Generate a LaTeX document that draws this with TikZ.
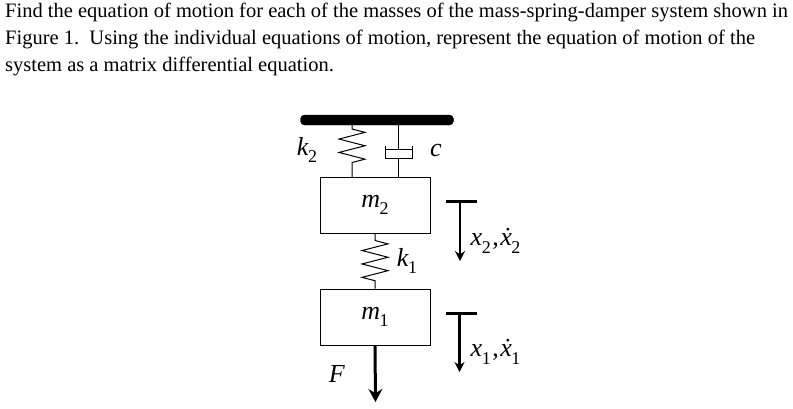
\documentclass[tikz,border=0pt]{standalone}
\usepackage{fontspec}
\setmainfont{Liberation Serif}
\usetikzlibrary{arrows.meta,decorations.pathmorphing}
\newcommand{\qtysym}[2]{\textit{#1}\kern-0.5pt\raisebox{-0.28em}{\fontsize{18}{18}\selectfont #2}}
\newcommand{\qtydot}[2]{\textit{\.{#1}}\kern-0.5pt\raisebox{-0.28em}{\fontsize{18}{18}\selectfont #2}}
\tikzset{
    body/.style={inner sep=0pt, anchor=base west, font=\fontsize{20.5}{27}\selectfont},
    lab/.style={inner sep=0pt, font=\fontsize{26}{26}\selectfont},
    mass/.style={draw, line width=1pt, minimum width=110pt, minimum height=56pt, inner sep=0pt, font=\fontsize{26}{26}\selectfont},
    wire/.style={line width=1pt},
    spring/.style={line width=1pt, decorate, decoration={zigzag, amplitude=13pt, segment length=13.4pt, pre length=7pt, post length=8pt}},
    travel/.style={line width=2.2pt, -{Stealth[length=10pt,width=10pt]}},
    tbar/.style={line width=3pt},
}
\begin{document}
\begin{tikzpicture}[x=1pt,y=-1pt]
    \useasboundingbox (0,0) rectangle (793,408);

    \node[body] (line1) at (5,17) {Find the equation of motion for each of the masses of the mass-spring-damper system shown in};
    \node[body] (line2) at (5,44) {Figure 1.\ \ Using the individual equations of motion, represent the equation of motion of the};
    \node[body] (line3) at (5,71) {system as a matrix differential equation.};

    % ceiling and masses
    \node[draw=black, fill=black, rounded corners=4pt, minimum width=153pt, minimum height=10pt, inner sep=0pt] (ceil) at (377,120) {};
    \node[mass] (m2) at (375,205) {\qtysym{m}{2}};
    \node[mass] (m1) at (375,317) {\qtysym{m}{1}};

    % springs
    \coordinate (k2top) at (352,122);
    \coordinate (k2bot) at (352,177);
    \draw[spring] (k2top) -- (k2bot);
    \draw[spring, decoration={pre length=7pt, post length=7pt}] (m2.south) -- (m1.north);

    % damper
    \coordinate (ctop) at (398,122);
    \coordinate (cpist) at (398,149);
    \coordinate (cbot) at (398,158);
    \coordinate (cmass) at (398,177);
    \draw[wire] (ctop) -- (cpist);
    \draw[wire] (cbot) -- (cmass);
    \draw[wire] (385,146) -- (385,158) -- (412,158) -- (412,146);
    \draw[wire] (385,149) -- (412,149);

    % force
    \coordinate (ftip) at (375.5,402);
    \draw[line width=3pt, -{Stealth[length=13pt,width=14pt]}] (m1.south) -- (ftip);

    % displacement markers
    \coordinate (t2l) at (446,201);
    \coordinate (t2r) at (477,201);
    \coordinate (t2m) at (460,201);
    \coordinate (t2e) at (460,261);
    \draw[tbar] (t2l) -- (t2r);
    \draw[travel] (t2m) -- (t2e);
    \coordinate (t1l) at (446,313);
    \coordinate (t1r) at (477,313);
    \coordinate (t1m) at (459.5,313);
    \coordinate (t1e) at (459.5,372);
    \draw[tbar] (t1l) -- (t1r);
    \draw[travel] (t1m) -- (t1e);

    % labels
    \node[lab] (k2lab) at (307,150) {\qtysym{k}{2}};
    \node[lab] (clab) at (436,150) {\textit{c}};
    \node[lab] (k1lab) at (407,261) {\qtysym{k}{1}};
    \node[lab] (flab) at (337,374) {\textit{F}};
    \node[lab] (x2lab) at (495.5,241) {\qtysym{x}{2}\kern1.5pt,\kern1.5pt\qtydot{x}{2}};
    \node[lab] (x1lab) at (495.5,352) {\qtysym{x}{1}\kern1.5pt,\kern1.5pt\qtydot{x}{1}};
\end{tikzpicture}
\end{document}
